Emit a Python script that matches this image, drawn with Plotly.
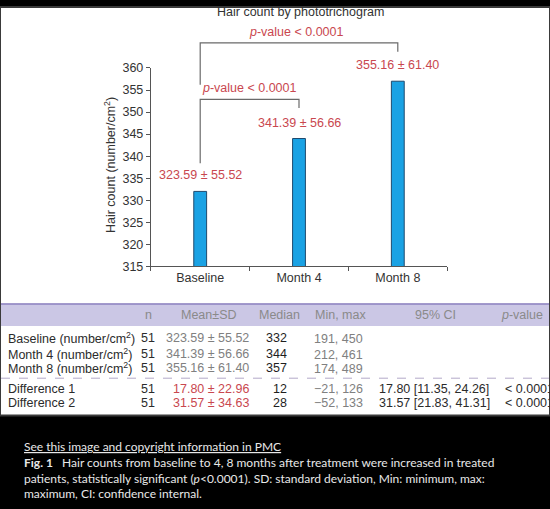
import plotly.graph_objects as go

# ---------------- data ----------------
categories = ["Baseline", "Month 4", "Month 8"]
medians = [332, 344, 357]
means = [323.59, 341.39, 355.16]
sds = [55.52, 56.66, 61.40]

y_ticks = [315, 320, 325, 330, 335, 340, 345, 350, 355, 360]

diff_means = [17.80, 31.57]
diff_sds = [22.96, 34.63]

row_labels = ["Baseline (number/cm<sup>2</sup>)", "Month 4 (number/cm<sup>2</sup>)",
              "Month 8 (number/cm<sup>2</sup>)", "Difference 1", "Difference 2"]
row_n = [51, 51, 51, 51, 51]
row_median = [332, 344, 357, 12, 28]
row_min = [191, 212, 174, -21, -52]
row_max = [450, 461, 489, 126, 133]
ci_low = [11.35, 21.83]
ci_high = [24.26, 41.31]
p_texts = ["&lt; 0.0001", "&lt; 0.0001"]
header_labels = ["n", "Mean±SD", "Median", "Min, max", "95% CI", "<i>p</i>-value"]

bracket_pairs = [(0, 1), (0, 2)]
bracket_text = "<i>p</i>-value &lt; 0.0001"

caption_lines = [
    "<u>See this image and copyright information in PMC</u>",
    "<b>Fig. 1</b>\u00a0\u00a0 Hair counts from baseline to 4, 8 months after treatment were increased in treated",
    "patients, statistically significant (<i>p</i>&lt;0.0001). SD: standard deviation, Min: minimum, max:",
    "maximum, CI: confidence internal.",
]

# ---------------- layout helpers ----------------
W, H = 550, 509
def px(x):
    return x / W
def py(y):
    return 1 - y / H

FONT = "Liberation Sans, Arial, sans-serif"
RED = "#c9474f"
DARK = "#2b2b2b"
GRAY = "#808080"

# bracket geometry (in extended y2 units)
bracket_top = [352.9, 365.7]
bracket_left_bottom = [338.4, 356.2]
bracket_right_bottom = [350.9, 363.7]
bracket_text_pos = [(0.0, 355.5, "left"), (0.97, 368.1, "center")]

fig = go.Figure()

fig.add_trace(go.Bar(
    x=categories, y=medians, width=0.13,
    marker=dict(color="#1aa2e4", line=dict(color="#1f4a6e", width=1)),
    hoverinfo="skip", showlegend=False,
))

for i, (a, b) in enumerate(bracket_pairs):
    fig.add_trace(go.Scatter(
        x=[categories[a], categories[a], categories[b], categories[b]],
        y=[bracket_left_bottom[i], bracket_top[i], bracket_top[i], bracket_right_bottom[i]],
        yaxis="y2", mode="lines", line=dict(color="#6a6a6a", width=1.2),
        hoverinfo="skip", showlegend=False,
    ))
    bx, byy, anc = bracket_text_pos[i]
    fig.add_annotation(x=bx, y=byy, xref="x", yref="y2", text=bracket_text,
                       showarrow=False, xanchor=anc, yanchor="middle",
                       font=dict(family=FONT, size=12.5, color=RED))

for c, med, m, s in zip(categories, medians, means, sds):
    fig.add_annotation(x=c, y=med, xref="x", yref="y", text=f"{m:.2f} ± {s:.2f}",
                       showarrow=False, yanchor="middle", yshift=16,
                       font=dict(family=FONT, size=12.5, color=RED))

y_bottom = py(266.7)
fig.update_layout(
    width=W, height=H, autosize=False,
    margin=dict(l=0, r=0, t=0, b=0),
    paper_bgcolor="#000000", plot_bgcolor="rgba(0,0,0,0)",
    font=dict(family=FONT, size=12.5, color="#333333"),
    xaxis=dict(domain=[px(150.8), px(447.2)], type="category", range=[-0.5, 2.5],
               showline=True, linecolor="#555555", linewidth=1,
               ticks="outside", tickson="boundaries", ticklen=4, tickcolor="#555555",
               showgrid=False, zeroline=False, fixedrange=True,
               tickfont=dict(family=FONT, size=12.5, color="#333333")),
    yaxis=dict(domain=[y_bottom, py(62.7)], range=[315, 360], tickvals=y_ticks,
               showline=True, linecolor="#555555", linewidth=1,
               ticks="outside", ticklen=4, tickcolor="#555555",
               showgrid=False, zeroline=False, fixedrange=True,
               tickfont=dict(family=FONT, size=12.5, color="#333333")),
    yaxis2=dict(domain=[y_bottom, 1.0], range=[315, 315 + 266.7 * 45 / 204.0],
                anchor="x", visible=False, fixedrange=True),
)

shapes = []
# white panel with dark frame
shapes.append(dict(type="rect", xref="paper", yref="paper", x0=0, x1=1, y0=py(420), y1=1,
                   fillcolor="#ffffff", line=dict(color="#3a3a3a", width=2), layer="below"))
# table header band
shapes.append(dict(type="rect", xref="paper", yref="paper", x0=px(1), x1=px(549), y0=py(328), y1=py(305),
                   fillcolor="#cbc7e5", line=dict(width=0), layer="below"))
shapes.append(dict(type="line", xref="paper", yref="paper", x0=px(1), x1=px(549), y0=py(305.5), y1=py(305.5),
                   line=dict(color="#8c82bf", width=1.5), layer="below"))
# dashed separator
shapes.append(dict(type="line", xref="paper", yref="paper", x0=px(1), x1=px(549), y0=py(381.7), y1=py(381.7),
                   line=dict(color="#b3a9c9", width=1, dash="dash"), layer="below"))
fig.update_layout(shapes=shapes)

def ann(x, y, text, anchor="left", color=DARK, size=12.5, family=FONT):
    fig.add_annotation(x=px(x), y=py(y), xref="paper", yref="paper", text=text,
                       showarrow=False, xanchor=anchor, yanchor="middle",
                       font=dict(family=family, size=size, color=color))

# chart title and y title
ann(300, 5, "Hair count by phototrichogram", "center", "#333333")
fig.add_annotation(x=px(110), y=py(162.5), xref="paper", yref="paper",
                   text="Hair count (number/cm<sup>2</sup>)", textangle=-90,
                   showarrow=False, xanchor="center", yanchor="middle",
                   font=dict(family=FONT, size=12.5, color="#333333"))

# table header
header_x = [148, 209, 279, 340, 435, 522]
for hx, ht in zip(header_x, header_labels):
    ann(hx, 316.5, ht, "center", "#8a8a8a", 12.5)

# table rows
row_y = [340.5, 356.5, 371.7, 392.3, 407.7]

def fmt_int(v):
    return f"−{abs(v)}" if v < 0 else f"{v}"

row_mean_text = [f"{m:.2f} ± {s:.2f}" for m, s in zip(means, sds)] + \
                [f"{m:.2f} ± {s:.2f}" for m, s in zip(diff_means, diff_sds)]
for i, yy in enumerate(row_y):
    ann(6, yy, row_labels[i], "left", DARK, 12.5)
    ann(148, yy, str(row_n[i]), "center", DARK, 12.5)
    ann(251, yy, row_mean_text[i], "right", GRAY if i < 3 else RED, 12.5)
    ann(289, yy, str(row_median[i]), "right", "#1e1e1e", 12.5)
    ann(365, yy + (1 if i < 3 else 0), f"{fmt_int(row_min[i])}, {fmt_int(row_max[i])}", "right", GRAY, 12.5)
for j in range(2):
    yy = row_y[3 + j]
    ann(434, yy, f"{diff_means[j]:.2f} [{ci_low[j]:.2f}, {ci_high[j]:.2f}]", "center", DARK, 12.5)
    ann(503, yy, p_texts[j], "left", DARK, 12.5)

# caption
cap_y = [452, 468.5, 485, 500.5]
for yy, t in zip(cap_y, caption_lines):
    ann(22, yy, t, "left", "#e8e8e8", 12, "Lato, sans-serif")

post = (
    "document.documentElement.style.margin='0';document.documentElement.style.padding='0';"
    "document.documentElement.style.overflow='hidden';"
    "document.body.style.margin='0';document.body.style.padding='0';"
    "document.body.style.overflow='hidden';document.body.style.background='#000';"
    "var g=document.getElementById('{plot_id}');"
    "if(g&&g.parentElement){g.parentElement.style.width='550px';g.parentElement.style.height='509px';"
    "g.parentElement.style.overflow='hidden';}"
)

fig.write_html(
    "out.html",
    config={"displayModeBar": False, "staticPlot": True},
    post_script=post,
)
